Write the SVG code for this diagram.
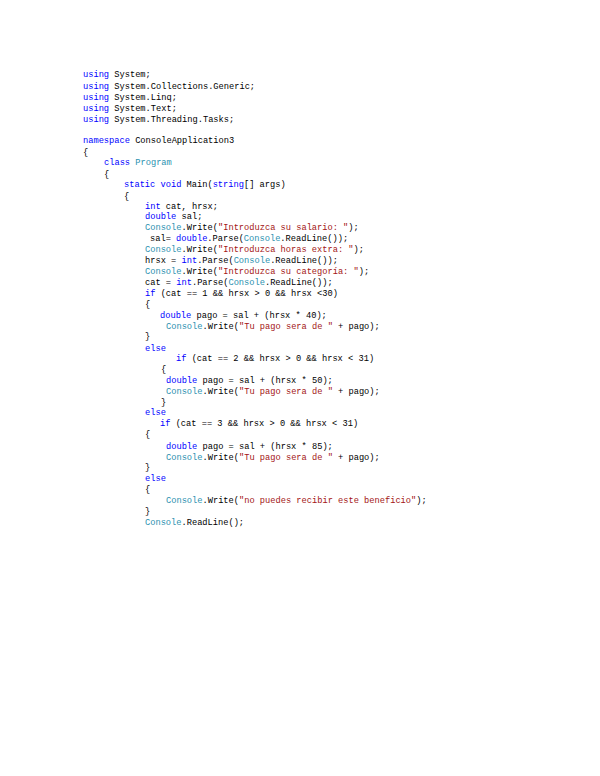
<svg xmlns="http://www.w3.org/2000/svg" width="600" height="776" viewBox="0 0 600 776">
<style>
text{font-family:"Liberation Mono","DejaVu Sans Mono",monospace;font-size:8.7px;fill:#000;white-space:pre}
.k{fill:#0000FF}.t{fill:#2B91AF}.s{fill:#A31515}
</style>
<rect width="600" height="776" fill="#fff"/>
<g id="code">
<text x="83" y="77"><tspan class="k">using</tspan> System;</text>
<text x="83" y="89"><tspan class="k">using</tspan> System.Collections.Generic;</text>
<text x="83" y="100"><tspan class="k">using</tspan> System.Linq;</text>
<text x="83" y="111"><tspan class="k">using</tspan> System.Text;</text>
<text x="83" y="122"><tspan class="k">using</tspan> System.Threading.Tasks;</text>
<text x="83" y="143"><tspan class="k">namespace</tspan> ConsoleApplication3</text>
<text x="83" y="155">{</text>
<text x="104" y="165"><tspan class="k">class</tspan> <tspan class="t">Program</tspan></text>
<text x="104" y="177">{</text>
<text x="124" y="187"><tspan class="k">static</tspan> <tspan class="k">void</tspan> Main(<tspan class="k">string</tspan>[] args)</text>
<text x="124" y="199">{</text>
<text x="145" y="209"><tspan class="k">int</tspan> cat, hrsx;</text>
<text x="145" y="219"><tspan class="k">double</tspan> sal;</text>
<text x="145" y="230"><tspan class="t">Console</tspan>.Write(<tspan class="s">"Introduzca su salario: "</tspan>);</text>
<text x="150" y="241">sal= <tspan class="k">double</tspan>.Parse(<tspan class="t">Console</tspan>.ReadLine());</text>
<text x="145" y="252"><tspan class="t">Console</tspan>.Write(<tspan class="s">"Introduzca horas extra: "</tspan>);</text>
<text x="145" y="263">hrsx = <tspan class="k">int</tspan>.Parse(<tspan class="t">Console</tspan>.ReadLine());</text>
<text x="145" y="274"><tspan class="t">Console</tspan>.Write(<tspan class="s">"Introduzca su categoría: "</tspan>);</text>
<text x="145" y="285">cat = <tspan class="k">int</tspan>.Parse(<tspan class="t">Console</tspan>.ReadLine());</text>
<text x="145" y="296"><tspan class="k">if</tspan> (cat == 1 &amp;&amp; hrsx &gt; 0 &amp;&amp; hrsx &lt;30)</text>
<text x="145" y="307">{</text>
<text x="160" y="318"><tspan class="k">double</tspan> pago = sal + (hrsx * 40);</text>
<text x="166" y="329"><tspan class="t">Console</tspan>.Write(<tspan class="s">"Tu pago sera de "</tspan> + pago);</text>
<text x="145" y="339">}</text>
<text x="145" y="351"><tspan class="k">else</tspan></text>
<text x="176" y="361"><tspan class="k">if</tspan> (cat == 2 &amp;&amp; hrsx &gt; 0 &amp;&amp; hrsx &lt; 31)</text>
<text x="161" y="372">{</text>
<text x="166" y="383"><tspan class="k">double</tspan> pago = sal + (hrsx * 50);</text>
<text x="166" y="394"><tspan class="t">Console</tspan>.Write(<tspan class="s">"Tu pago sera de "</tspan> + pago);</text>
<text x="161" y="405">}</text>
<text x="145" y="415"><tspan class="k">else</tspan></text>
<text x="160" y="426"><tspan class="k">if</tspan> (cat == 3 &amp;&amp; hrsx &gt; 0 &amp;&amp; hrsx &lt; 31)</text>
<text x="145" y="437">{</text>
<text x="166" y="449"><tspan class="k">double</tspan> pago = sal + (hrsx * 85);</text>
<text x="166" y="460"><tspan class="t">Console</tspan>.Write(<tspan class="s">"Tu pago sera de "</tspan> + pago);</text>
<text x="145" y="470">}</text>
<text x="145" y="481"><tspan class="k">else</tspan></text>
<text x="145" y="492">{</text>
<text x="166" y="503"><tspan class="t">Console</tspan>.Write(<tspan class="s">"no puedes recibir este beneficio"</tspan>);</text>
<text x="145" y="514">}</text>
<text x="145" y="525"><tspan class="t">Console</tspan>.ReadLine();</text>
</g>
</svg>
